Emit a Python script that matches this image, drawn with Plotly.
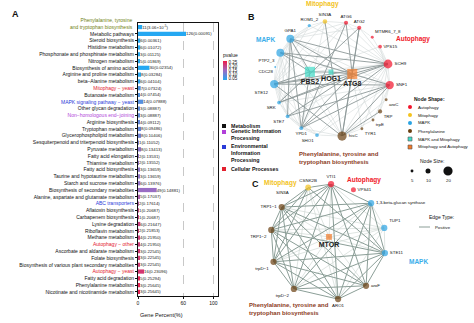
import plotly.graph_objects as go

W, H = 474, 323

# ---------------- Panel A data ----------------
A_PATHWAYS = [
    "Phenylalanine, tyrosine<br>and tryptophan biosynthesis",
    "Metabolic pathways", "Steroid biosynthesis", "Histidine metabolism",
    "Phosphonate and phosphinate metabolism", "Nitrogen metabolism",
    "Biosynthesis of amino acids", "Arginine and proline metabolism",
    "beta−Alanine metabolism", "Mitophagy − yeast", "Butanoate metabolism",
    "MAPK signaling pathway − yeast", "Other glycan degradation",
    "Non−homologous end−joining", "Arginine biosynthesis", "Tryptophan metabolism",
    "Glycerophospholipid metabolism", "Sesquiterpenoid and triterpenoid biosynthesis",
    "Pyruvate metabolism", "Fatty acid elongation", "Thiamine metabolism",
    "Fatty acid biosynthesis", "Taurine and hypotaurine metabolism",
    "Starch and sucrose metabolism", "Biosynthesis of secondary metabolites",
    "Alanine, aspartate and glutamate metabolism", "ABC transporters",
    "Aflatoxin biosynthesis", "Carbapenem biosynthesis", "Lysine degradation",
    "Riboflavin metabolism", "Methane metabolism", "Autophagy − other",
    "Ascorbate and aldarate metabolism", "Folate biosynthesis",
    "Biosynthesis of various plant secondary metabolites", "Autophagy − yeast",
    "Fatty acid degradation", "Phenylalanine metabolism",
    "Nicotinate and nicotinamide metabolism",
]
A_COUNTS = [11, 126, 6, 6, 3, 5, 30, 8, 6, 7, 4, 14, 3, 3, 4, 8, 8, 1, 8, 2,
            2, 3, 3, 6, 49, 5, 2, 1, 1, 6, 2, 4, 4, 3, 3, 3, 16, 5, 3, 3]
A_PVALUES = [3.06e-5, 0.00091, 0.00361, 0.01072, 0.01125, 0.01869, 0.02354,
             0.03284, 0.04104, 0.07324, 0.07454, 0.07888, 0.08887, 0.08887,
             0.09112, 0.09486, 0.10406, 0.11052, 0.13413, 0.13531, 0.13552,
             0.13659, 0.13659, 0.13976, 0.14881, 0.17037, 0.17614, 0.20687,
             0.20687, 0.21647, 0.21853, 0.21950, 0.21950, 0.22545, 0.22545,
             0.22545, 0.23096, 0.25294, 0.25645, 0.25645]
A_CLASS = ["phe", "met", "met", "met", "met", "met", "met", "met", "met", "cell",
           "met", "env", "met", "gen", "met", "met", "met", "met", "met", "met",
           "met", "met", "met", "met", "met", "met", "env", "met", "met", "met",
           "met", "met", "cell", "met", "met", "met", "cell", "met", "met", "met"]
TOTAL_GENES = 198
A_XTICKS = [0, 60, 100]
PV_TICKS = [0.05, 0.10, 0.15, 0.20, 0.25]
A_LEGEND = ["Metabolism", "Genetic Information<br>Processing",
            "Environmental<br>Information<br>Processing", "Cellular Processes"]
A_LEGEND_CLASS = ["met", "gen", "env", "cell"]

# ---------------- Panel B data ----------------
B_NODES = ["SIN3A", "ATG6", "ATG2", "MTMR6_7_8", "VPS15", "SCH9", "SNF1", "aroC",
           "TRP", "trpE", "TYR1", "hisC", "SHO1", "YPD1", "STE7", "SRK", "STE12",
           "CDC28", "PTP2_3", "GPA1", "ROM1_2"]
B_GROUP = ["Mitophagy", "Autophagy", "Autophagy", "Autophagy", "Autophagy",
           "Autophagy", "Autophagy", "Phenylalanine", "Phenylalanine",
           "Phenylalanine", "Phenylalanine", "Phenylalanine", "MAPK", "MAPK",
           "MAPK", "MAPK", "MAPK", "MAPK", "MAPK", "MAPK", "MAPK"]
B_DEGREE = [9, 8, 8, 5, 7, 19, 18, 5, 8, 5, 5, 20, 7, 7, 7, 7, 18, 3, 17, 17, 6]
B_ANGLE = [97, 76, 62, 46, 34, 15, -6, -21, -34, -45, -59, -80, -105, -122,
           -140, -156, -175, 168, 153, 136, 113]
B_HUBS = ["PBS2", "HOG1", "ATG8"]
B_HUB_GROUP = ["MAPK and Mitophagy", "MAPK and Mitophagy", "Mitophagy and Autophagy"]
B_HUB_DEGREE = [22, 10, 22]
B_HUB_R = [0.40, 0.12, 0.36]
B_HUB_ANGLE = [162, 98, 14]
B_EDGES_STRONG = [
    ("ATG8", "GPA1"), ("ATG8", "PTP2_3"), ("ATG8", "STE12"), ("ATG8", "SRK"),
    ("ATG8", "STE7"), ("ATG8", "YPD1"), ("ATG8", "hisC"), ("ATG8", "ATG2"),
    ("ATG8", "ATG6"), ("ATG8", "SCH9"), ("ATG8", "SNF1"), ("ATG8", "HOG1"),
    ("PBS2", "HOG1"), ("PBS2", "GPA1"), ("PBS2", "STE12"), ("PBS2", "YPD1"),
    ("PBS2", "PTP2_3"), ("GPA1", "SCH9"), ("PTP2_3", "SCH9"), ("STE12", "SCH9"),
    ("STE12", "SNF1"), ("SCH9", "YPD1"), ("SNF1", "YPD1"), ("SNF1", "STE7"),
    ("SIN3A", "hisC"), ("ATG6", "YPD1"), ("ATG2", "SRK"), ("hisC", "TRP"),
    ("GPA1", "YPD1"), ("GPA1", "STE7"), ("SCH9", "SRK"), ("SNF1", "hisC"),
    ("STE12", "hisC"), ("ATG2", "hisC"),
]
B_EDGES_WEAK = [
    ("SIN3A", "ROM1_2"), ("SIN3A", "GPA1"), ("SIN3A", "ATG6"), ("SIN3A", "SCH9"),
    ("SIN3A", "STE12"), ("ROM1_2", "GPA1"), ("ROM1_2", "PTP2_3"), ("ROM1_2", "SCH9"),
    ("GPA1", "STE12"), ("GPA1", "SRK"), ("GPA1", "SNF1"), ("GPA1", "hisC"),
    ("GPA1", "PTP2_3"), ("PTP2_3", "STE12"), ("PTP2_3", "SRK"), ("PTP2_3", "STE7"),
    ("PTP2_3", "YPD1"), ("PTP2_3", "SNF1"), ("PTP2_3", "hisC"), ("STE12", "STE7"),
    ("STE12", "YPD1"), ("STE12", "SHO1"), ("STE12", "SRK"), ("SRK", "STE7"),
    ("SRK", "YPD1"), ("SRK", "SNF1"), ("STE7", "YPD1"), ("STE7", "SHO1"),
    ("STE7", "SCH9"), ("YPD1", "SHO1"), ("YPD1", "hisC"), ("SHO1", "hisC"),
    ("SHO1", "SCH9"), ("SHO1", "SNF1"), ("hisC", "SCH9"), ("TYR1", "SCH9"),
    ("TRP", "SCH9"), ("aroC", "SNF1"), ("trpE", "SNF1"), ("TRP", "SNF1"),
    ("hisC", "aroC"), ("hisC", "TYR1"), ("hisC", "trpE"), ("ATG6", "ATG2"),
    ("ATG2", "MTMR6_7_8"), ("ATG6", "SCH9"), ("ATG2", "SCH9"), ("VPS15", "SNF1"),
    ("MTMR6_7_8", "SCH9"), ("ATG6", "GPA1"), ("ATG2", "GPA1"), ("ATG6", "STE12"),
    ("SCH9", "SNF1"), ("SCH9", "VPS15"), ("CDC28", "STE12"), ("CDC28", "GPA1"),
    ("ROM1_2", "STE12"), ("SIN3A", "YPD1"), ("ATG6", "SRK"), ("VPS15", "STE12"),
    ("PBS2", "SCH9"), ("PBS2", "SNF1"), ("PBS2", "SRK"), ("HOG1", "GPA1"),
    ("HOG1", "SCH9"), ("HOG1", "YPD1"), ("ATG8", "TYR1"), ("ATG8", "trpE"),
]

# ---------------- Panel C data ----------------
C_NODES = ["CSNK2B", "VTI1", "VPS41", "1,3-beta-glucan synthase", "TUP1", "STE11",
           "aroF", "ARO1", "trpD−2", "trpD−1", "TRP1−2", "TRP1−1"]
C_GROUP = ["Mitophagy", "Autophagy", "Autophagy", "MAPK", "MAPK", "MAPK",
           "Phenylalanine", "Phenylalanine", "Phenylalanine", "Phenylalanine",
           "Phenylalanine", "Phenylalanine"]
C_DEGREE = [12, 13, 10, 13, 13, 13, 13, 13, 13, 13, 13, 13]
C_ANGLE = [110, 87, 64, 42, 14, -11, -49, -80, -126, -160, 168, 143]
C_HUBS = ["MTOR"]
C_HUB_GROUP = ["Mitophagy and Autophagy"]
C_HUB_DEGREE = [12]
C_HUB_R = [0.09]
C_HUB_ANGLE = [79]
C_CORE = ["VTI1", "1,3-beta-glucan synthase", "STE11", "aroF", "ARO1", "trpD−2",
          "trpD−1", "TRP1−2", "TRP1−1"]
C_EDGES_STRONG = [(a, b) for i, a in enumerate(C_CORE) for b in C_CORE[i + 1:]] + [
    ("CSNK2B", "TRP1−1"), ("CSNK2B", "TRP1−2"), ("CSNK2B", "trpD−1"),
    ("CSNK2B", "VTI1"), ("CSNK2B", "STE11"),
]
C_EDGES_WEAK = [("MTOR", n) for n in C_NODES if n != "VPS41"] + [
    ("TUP1", "TRP1−1"), ("TUP1", "TRP1−2"), ("TUP1", "trpD−1"), ("TUP1", "trpD−2"),
    ("TUP1", "ARO1"), ("TUP1", "VTI1"), ("TUP1", "1,3-beta-glucan synthase"),
    ("TUP1", "STE11"), ("CSNK2B", "ARO1"), ("CSNK2B", "trpD−2"),
]

# ---------------- styles ----------------
CLASS_COLORS = {"met": "#111111", "gen": "#b13fd9", "env": "#2a3ad8",
                "cell": "#e3202e", "phe": "#6f7f12"}
GROUP_COLORS = {"Autophagy": "#f2132b", "Mitophagy": "#f4c21c", "MAPK": "#2aa3e2",
                "Phenylalanine": "#6a3f10", "MAPK and Mitophagy": "#40dcc8",
                "Mitophagy and Autophagy": "#f47a28"}
B_TEXTPOS = ["top center", "top center", "top center", "top right", "middle right",
             "middle right", "middle right", "bottom right", "bottom right",
             "bottom right", "bottom right", "middle right", "bottom left",
             "bottom center", "bottom left", "bottom left", "bottom left",
             "bottom left", "bottom left", "top center", "top center"]
C_TEXTPOS = ["top center", "top center", "middle right", "middle right", "top right",
             "middle right", "middle right", "bottom center", "bottom left",
             "bottom left", "bottom left", "middle left"]
FONT = "Liberation Sans, Arial, sans-serif"


def px(x, y):
    return x / W, 1 - y / H


def node_size(d):
    return 0.42 * d + 0.8


fig = go.Figure()

# ---------------- Panel A ----------------
percent = [c / TOTAL_GENES * 100 for c in A_COUNTS]


def ptxt(p):
    if p < 1e-4:
        m, e = f"{p:.2e}".split("e")
        return f"{m}×10<sup>{int(e)}</sup>"
    return f"{p:.5f}"


bar_text = [f"{c}({ptxt(p)})" for c, p in zip(A_COUNTS, A_PVALUES)]
# the two-line first label is drawn as an annotation (lifted slightly so it
# does not collide with the next row); the others are tick labels
tick_vals, tick_text = [], []
for name, cls in zip(A_PATHWAYS, A_CLASS):
    if "<br>" in name:
        continue
    tick_vals.append(name)
    if cls == "met":
        tick_text.append(name)
    else:
        tick_text.append(f"<span style='color:{CLASS_COLORS[cls]}'>{name}</span>")

fig.add_trace(go.Bar(
    x=percent, y=A_PATHWAYS, orientation="h", width=0.62,
    marker=dict(color=A_PVALUES, cmin=0.03, cmax=0.27,
                colorscale=[[0, "#25a8f2"], [0.5, "#9a6cc4"], [1, "#ef1b48"]],
                line=dict(width=0), showscale=True,
                colorbar=dict(title=dict(text="pvalue", side="top",
                                         font=dict(size=5, family=FONT)),
                              tickvals=PV_TICKS, ticktext=[f"{v:.2f}" for v in PV_TICKS],
                              tickfont=dict(size=4.5, family=FONT), ticks="",
                              thickness=4, len=30, lenmode="pixels",
                              x=223 / W, xanchor="left", y=1 - 65 / H, yanchor="middle",
                              xpad=0, ypad=0, outlinewidth=0)),
    text=bar_text, textposition="outside", textfont=dict(size=4.3, color="#222", family=FONT),
    constraintext="none", cliponaxis=False, xaxis="x", yaxis="y", showlegend=False,
))

# ---------------- network helper ----------------
def add_network(subplot, nodes, groups, degrees, angles, hubs, hub_groups, hub_deg,
                hub_r, hub_ang, strong, weak, textpos, strong_col, weak_col, sw, ww):
    pos = {n: (1.0, a) for n, a in zip(nodes, angles)}
    for n, r, a in zip(hubs, hub_r, hub_ang):
        pos[n] = (r, a)
    for edges, col, w in ((weak, weak_col, ww), (strong, strong_col, sw)):
        rr, tt = [], []
        for a, b in edges:
            rr += [pos[a][0], pos[b][0], None]
            tt += [pos[a][1], pos[b][1], None]
        fig.add_trace(go.Scatterpolar(r=rr, theta=tt, mode="lines", subplot=subplot,
                                      line=dict(color=col, width=w), hoverinfo="skip",
                                      showlegend=False, cliponaxis=False))
    fig.add_trace(go.Scatterpolar(
        r=[1.0] * len(nodes), theta=angles, mode="markers+text", subplot=subplot,
        marker=dict(size=[node_size(d) for d in degrees],
                    color=[GROUP_COLORS[g] for g in groups], line=dict(width=0)),
        text=nodes, textposition=textpos,
        textfont=dict(size=4.4, color="#111", family=FONT),
        showlegend=False, cliponaxis=False))
    fig.add_trace(go.Scatterpolar(
        r=hub_r, theta=hub_ang, mode="markers+text", subplot=subplot,
        marker=dict(size=[node_size(d) for d in hub_deg], symbol="square",
                    color=[GROUP_COLORS[g] for g in hub_groups], line=dict(width=0)),
        text=[f"<b>{h}</b>" for h in hubs], textposition="bottom center",
        textfont=dict(size=7, color="#222", family=FONT),
        showlegend=False, cliponaxis=False))


add_network("polar", B_NODES, B_GROUP, B_DEGREE, B_ANGLE, B_HUBS, B_HUB_GROUP,
            B_HUB_DEGREE, B_HUB_R, B_HUB_ANGLE, B_EDGES_STRONG, B_EDGES_WEAK,
            B_TEXTPOS, "#8d9898", "#d3dada", 0.9, 0.6)
add_network("polar2", C_NODES, C_GROUP, C_DEGREE, C_ANGLE, C_HUBS, C_HUB_GROUP,
            C_HUB_DEGREE, C_HUB_R, C_HUB_ANGLE, C_EDGES_STRONG, C_EDGES_WEAK,
            C_TEXTPOS, "#8b9e97", "#c9d3cf", 1.0, 0.6)

polar_common = dict(bgcolor="rgba(0,0,0,0)",
                    radialaxis=dict(visible=False, range=[0, 1]),
                    angularaxis=dict(visible=False, rotation=0, direction="counterclockwise"))

# ---------------- annotations ----------------
ann = []


def text(x, y, s, size=5, color="#111", bold=False, xanchor="center", align="center"):
    xx, yy = px(x, y)
    ann.append(dict(x=xx, y=yy, xref="paper", yref="paper", text=f"<b>{s}</b>" if bold else s,
                    showarrow=False, xanchor=xanchor, yanchor="middle", align=align,
                    font=dict(size=size, color=color, family=FONT)))


text(15, 14, "A", 9, "#111", True)
text(251, 17, "B", 9, "#111", True)
text(256, 184, "C", 9, "#111", True)
text(161, 315, "Gene Percent(%)", 5.5, "#111")
# first (two-line) pathway label
text(135, 23.5, A_PATHWAYS[0], 5, CLASS_COLORS[A_CLASS[0]], False, "right", "right")

# Panel A category legend
shapes = []
ys = [126, 135, 153, 169]
for lab, cls, y in zip(A_LEGEND, A_LEGEND_CLASS, ys):
    text(229, y, lab, 5.3, "#111", True, "left", "left")
    xx, yy = px(224, y if lab.count("<br>") == 0 else y - 3 * lab.count("<br>"))
    shapes.append(dict(type="rect", xref="paper", yref="paper", xsizemode="pixel",
                       ysizemode="pixel", xanchor=xx, yanchor=yy, x0=-2, x1=2, y0=-2, y1=2,
                       fillcolor=CLASS_COLORS[cls], line=dict(width=0)))

# network titles
text(322, 4, "Mitophagy", 6.5, "#f2c21a", True)
text(265, 39, "MAPK", 6.5, "#3aaeea", True)
text(413, 39, "Autophagy", 6.5, "#f0202a", True)
text(297, 158, "Phenylalanine, tyrosine and<br>tryptophan biosynthesis", 6, "#8b3c1e",
     True, "left", "left")
text(280, 183, "Mitophagy", 6.5, "#f2c21a", True)
text(364, 180, "Autophagy", 6.5, "#f0202a", True)
text(418, 261, "MAPK", 6.5, "#3aaeea", True)
text(247, 309, "Phenylalanine, tyrosine and<br>tryptophan biosynthesis", 6, "#8b3c1e",
     True, "left", "left")
text(282, 192, "SIN3A", 4.4, "#111")

# Node shape legend
text(412, 99, "Node Shape:", 5, "#111", True, "left", "left")
shape_items = ["Autophagy", "Mitophagy", "MAPK", "Phenylalanine", "MAPK and Mitophagy",
               "Mitophagy and Autophagy"]
for i, g in enumerate(shape_items):
    y = 107 + 8 * i
    text(416, y, g, 4.3, "#111", False, "left", "left")
    xx, yy = px(410, y)
    sq = "and" in g
    shapes.append(dict(type="rect" if sq else "circle", xref="paper", yref="paper",
                       xsizemode="pixel", ysizemode="pixel", xanchor=xx, yanchor=yy,
                       x0=-2, x1=2, y0=-2, y1=2, fillcolor=GROUP_COLORS[g],
                       line=dict(width=0.6 if sq else 0, color="#555")))

# Node size legend
text(418, 161, "Node Size:", 5, "#111", False, "left", "left")
for v, x in zip([5, 10, 20], [412, 428, 448]):
    r = node_size(v) / 2
    xx, yy = px(x, 171)
    shapes.append(dict(type="circle", xref="paper", yref="paper", xsizemode="pixel",
                       ysizemode="pixel", xanchor=xx, yanchor=yy, x0=-r, x1=r, y0=-r, y1=r,
                       fillcolor="#111", line=dict(width=0)))
    text(x, 180, str(v), 4.3, "#111")

# Edge type legend
text(427, 217, "Edge Type:", 5, "#111", False, "left", "left")
x0, y0 = px(419, 227)
x1, _ = px(430, 227)
shapes.append(dict(type="line", xref="paper", yref="paper", x0=x0, x1=x1, y0=y0, y1=y0,
                   line=dict(color="#8b9e97", width=1)))
text(433, 227, "Positive", 4.3, "#111", False, "left", "left")

fig.update_layout(
    width=W, height=H, margin=dict(l=0, r=0, t=0, b=0),
    paper_bgcolor="white", plot_bgcolor="white",
    font=dict(family=FONT, color="#111"),
    xaxis=dict(domain=[138 / W, 218 / W], range=[0, 106], tickvals=A_XTICKS,
               ticks="outside", ticklen=2, tickwidth=0.8, tickcolor="#111",
               tickfont=dict(size=5, family=FONT), showgrid=True, griddash="dash",
               gridcolor="#c8c8c8", gridwidth=0.6, zeroline=False,
               showline=True, linecolor="#111", linewidth=1, mirror=True),
    yaxis=dict(domain=[1 - 296 / H, 1 - 23 / H], type="category",
               categoryorder="array", categoryarray=A_PATHWAYS,
               range=[39.6, -0.6], tickvals=tick_vals, ticktext=tick_text,
               ticks="outside", ticklen=2, tickwidth=0.8, tickcolor="#111",
               tickfont=dict(size=5, family=FONT, color="#111"), showgrid=False,
               showline=True, linecolor="#111", linewidth=1, mirror=True),
    polar=dict(domain=dict(x=[274 / W, 390 / W], y=[1 - 137 / H, 1 - 21 / H]), **polar_common),
    polar2=dict(domain=dict(x=[270 / W, 386 / W], y=[1 - 300 / H, 1 - 184 / H]), **polar_common),
    annotations=ann, shapes=shapes,
)

fig.write_html("out.html")
